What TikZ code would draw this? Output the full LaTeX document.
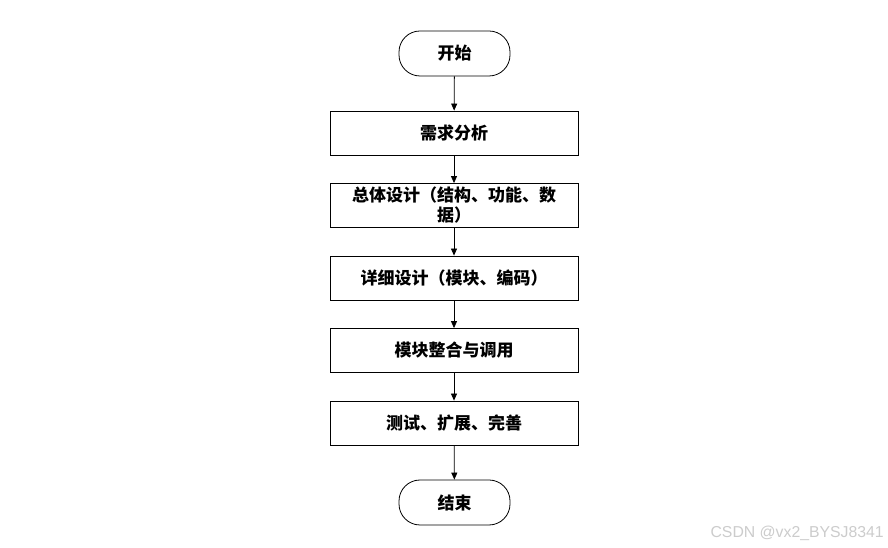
\documentclass[tikz,border=0pt]{standalone}
\usepackage{fontspec}
\newfontfamily\cjk{Noto Sans CJK SC}
\setsansfont{Liberation Sans}
\usetikzlibrary{arrows.meta}
\begin{document}
\begin{tikzpicture}[x=1pt,y=1pt,
  term/.style={draw=black,line width=0.8pt,rounded corners=21pt,minimum width=111pt,minimum height=45pt,inner sep=0pt,font=\cjk\bfseries\fontsize{17}{19}\selectfont},
  proc/.style={draw=black,line width=0.8pt,minimum width=248pt,minimum height=44pt,inner sep=0pt,align=center,font=\cjk\bfseries\fontsize{17}{20}\selectfont},
  arr/.style={draw=black,line width=0.8pt,-{Triangle[length=7pt,width=6pt]}}]
\useasboundingbox (0,0) rectangle (888,548);
\fill[white] (0,0) rectangle (888,548);
\node[term] (s) at (454.5,548-53.5) {开始};
\node[proc] (b1) at (454,548-133) {需求分析};
\node[proc] (b2) at (454,548-205.5) {总体设计（结构、功能、数\\据）};
\node[proc] (b3) at (454,548-278) {详细设计（模块、编码）};
\node[proc] (b4) at (454,548-350.5) {模块整合与调用};
\node[proc] (b5) at (454,548-423) {测试、扩展、完善};
\node[term] (e) at (454.5,548-502.5) {结束};
\draw[arr] (s) -- (b1);
\draw[arr] (b1) -- (b2);
\draw[arr] (b2) -- (b3);
\draw[arr] (b3) -- (b4);
\draw[arr] (b4) -- (b5);
\draw[arr] (b5) -- (e);
\node[anchor=east,text=black!20,font=\sffamily\fontsize{15.8}{18}\selectfont,inner sep=0pt] (wm) at (884,548-533) {CSDN @vx2\_BYSJ8341};
\end{tikzpicture}
\end{document}
